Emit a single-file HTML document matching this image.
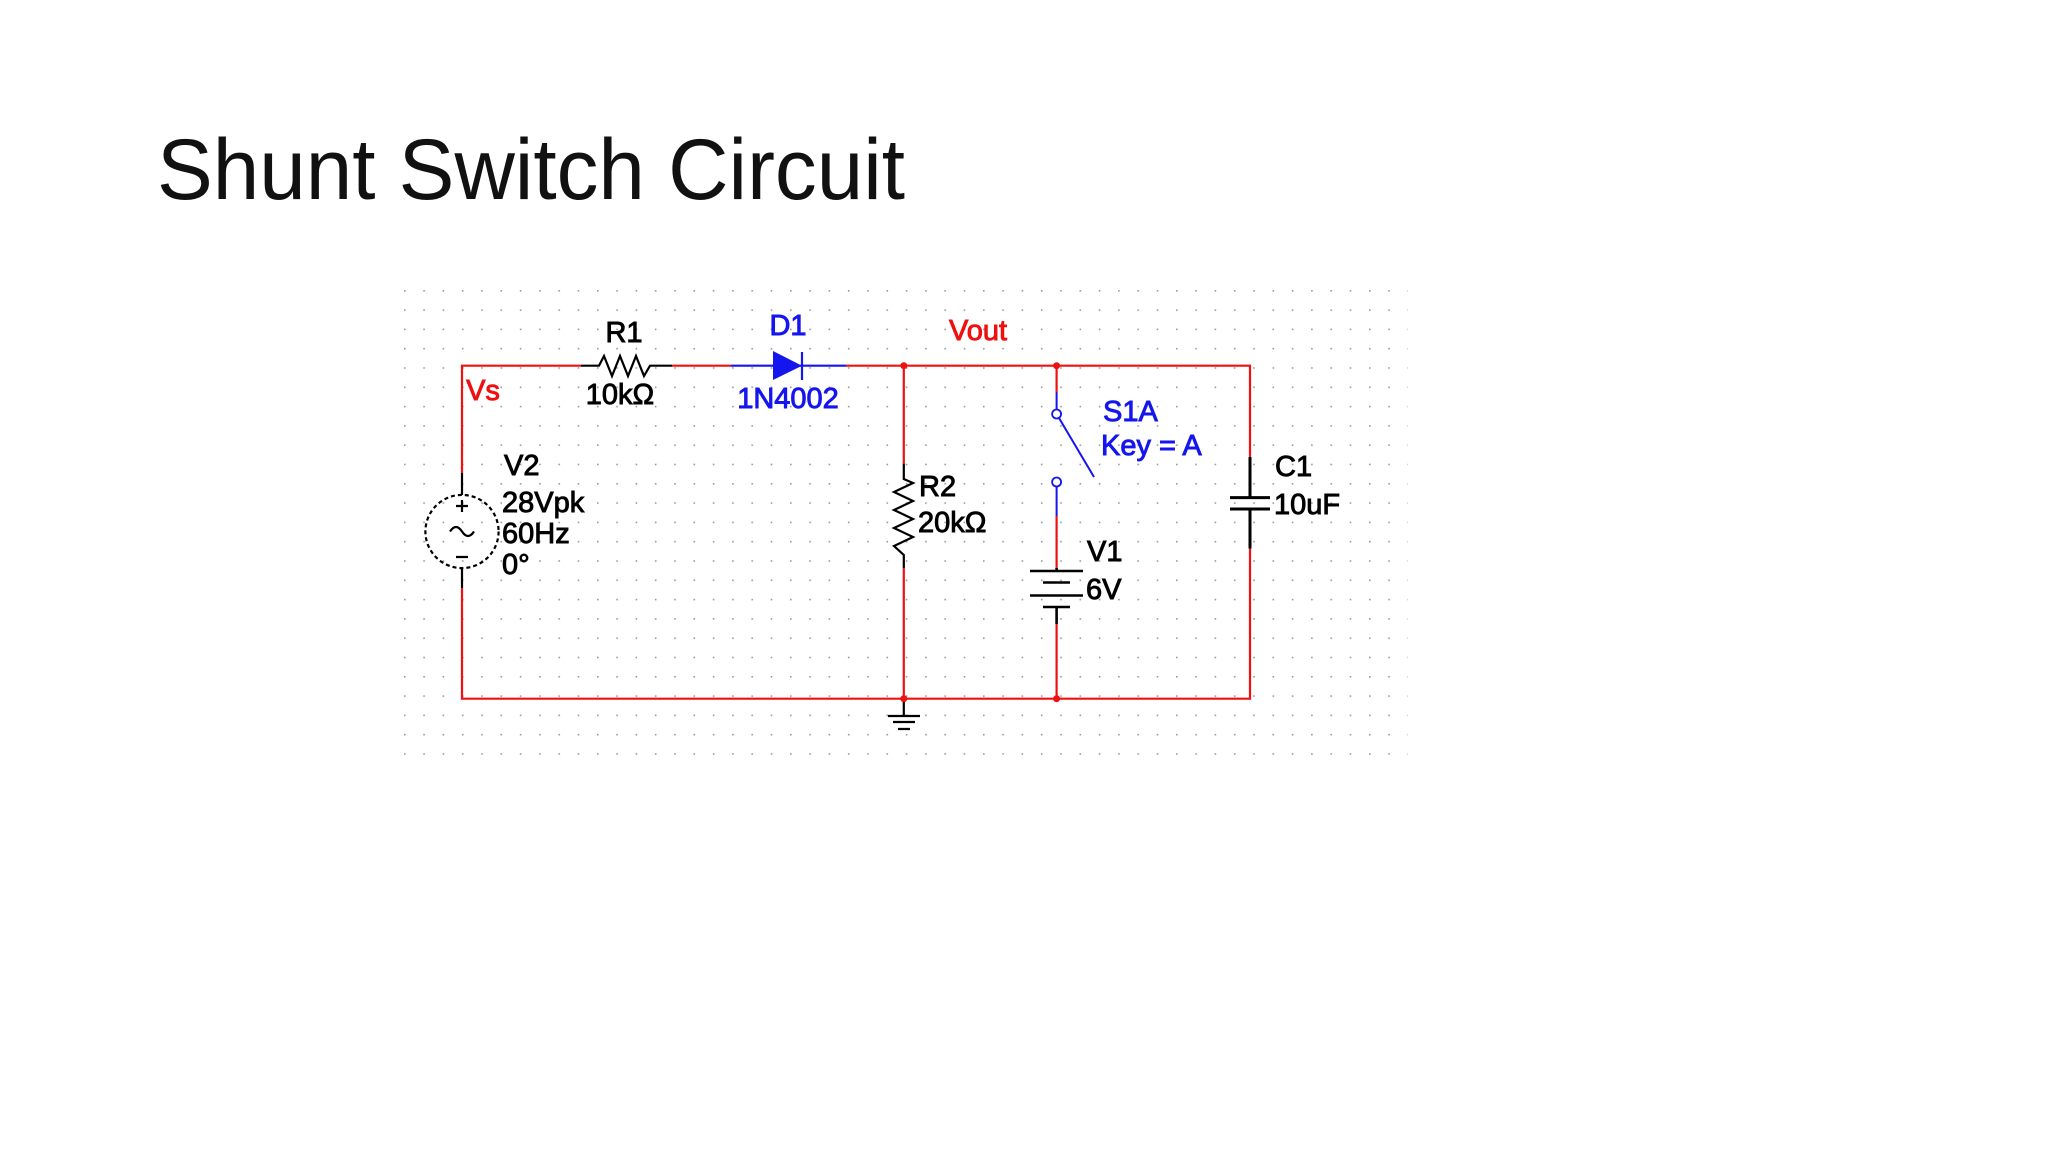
<!DOCTYPE html>
<html><head><meta charset="utf-8"><style>
html,body{margin:0;padding:0;background:#fff}
svg{display:block}
text{font-family:"Liberation Sans",Arial,sans-serif}
.l{font-size:29px;fill:#000}
.r{fill:#ee1111}
.b{fill:#1515ee}
</style></head><body>
<svg width="2048" height="1152" viewBox="0 0 2048 1152" xmlns="http://www.w3.org/2000/svg">
<defs>
<pattern id="g" x="404" y="290" width="19.3" height="19.3" patternUnits="userSpaceOnUse">
<rect x="0" y="0" width="1.6" height="1.6" fill="#9a9a9a"/>
</pattern>
</defs>
<text x="157" y="199" font-size="86" textLength="748" lengthAdjust="spacingAndGlyphs" fill="#111">Shunt Switch Circuit</text>
<rect x="403" y="289" width="1005" height="468" fill="url(#g)"/>

<g fill="none" stroke-width="2.2">
<path stroke="#ee1111" d="M581 365.7 H462 V473 M462 588 V698.7 H1250 V548.5 M1250 457 V365.7 H846 M672 365.7 H731 M903.8 365.7 V463.6 M903.8 568 V698.7 M1056.6 365.7 V392 M1056.6 516 V568 M1056.6 624 V698.7"/>
<path stroke="#000" d="M581 365.7 H599 L604 356 L612 376 L620 356 L628 376 L636 356 L644 376 L650 365.7 H672"/>
<path stroke="#000" d="M903.8 463.6 V479 L913 483 L894 492 L913 501 L894 510 L913 519 L894 528 L913 537 L894 546 L903.8 555 V568"/>
<path stroke="#000" d="M462 473 V495 M462 568 V588"/>
<circle stroke="#000" stroke-dasharray="4 3" cx="462" cy="531.5" r="36.6"/>
<path stroke="#000" d="M450 531.5 q6 -9 12 0 q6 9 12 0"/>
<path stroke="#000" d="M456 506 h12 M462 500 v12 M456 557 h12"/>
<path stroke="#000" d="M903.8 698.7 V716 M888 716 H920 M893 722 H915 M898 729 H910"/>
<path stroke="#000" d="M1056.6 568 V571 M1030 571 H1083 M1043 582.5 H1070 M1030 595.5 H1083 M1043 607 H1070 M1056.6 607 V624" stroke-width="2.6"/>
<path stroke="#000" d="M1250 457 V497.6 M1230 497.6 H1270 M1230 509 H1270 M1250 509 V548.5" stroke-width="3"/>
<path stroke="#1515ee" d="M731 365.7 H846 M802 352 V380"/>
<path stroke="#1515ee" d="M1056.6 392 V409 M1059 418 L1094 477 M1056.6 487 V516" stroke-width="2"/>
<circle stroke="#1515ee" cx="1056.6" cy="414" r="4.5" stroke-width="1.8"/>
<circle stroke="#1515ee" cx="1056.6" cy="482" r="4.5" stroke-width="1.8"/>
</g>
<polygon points="773,351 773,380 802,365.7" fill="#1515ee"/>
<circle cx="903.8" cy="365.7" r="3.5" fill="#ee1111"/>
<circle cx="1056.6" cy="365.7" r="3.5" fill="#ee1111"/>
<circle cx="903.8" cy="698.7" r="3.5" fill="#ee1111"/>
<circle cx="1056.6" cy="698.7" r="3.5" fill="#ee1111"/>

<g class="l" stroke-width="0.9">
<text x="624" y="342" text-anchor="middle" stroke="#000">R1</text>
<text x="620" y="404" text-anchor="middle" stroke="#000">10kΩ</text>
<text x="788" y="335" text-anchor="middle" class="b" stroke="#1515ee">D1</text>
<text x="788" y="408" text-anchor="middle" class="b" stroke="#1515ee">1N4002</text>
<text x="483" y="400" text-anchor="middle" class="r" stroke="#ee1111">Vs</text>
<text x="978" y="340" text-anchor="middle" class="r" stroke="#ee1111">Vout</text>
<text x="504" y="475" stroke="#000">V2</text>
<text x="502" y="512" stroke="#000">28Vpk</text>
<text x="502" y="543" stroke="#000">60Hz</text>
<text x="502" y="574" stroke="#000">0°</text>
<text x="919" y="496" stroke="#000">R2</text>
<text x="918" y="532" stroke="#000">20kΩ</text>
<text x="1103" y="421" class="b" stroke="#1515ee">S1A</text>
<text x="1101" y="455" class="b" stroke="#1515ee">Key = A</text>
<text x="1087" y="561" stroke="#000">V1</text>
<text x="1086" y="599" stroke="#000">6V</text>
<text x="1275" y="476" stroke="#000">C1</text>
<text x="1274" y="514" stroke="#000">10uF</text>
</g>
</svg>
</body></html>
